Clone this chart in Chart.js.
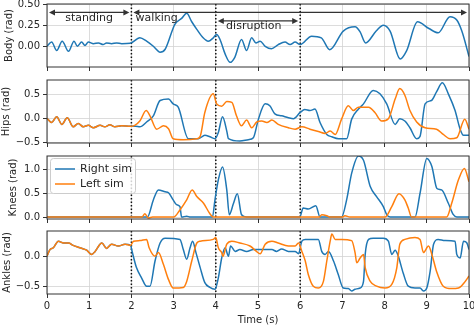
<!DOCTYPE html>
<html>
<head>
<meta charset="utf-8">
<script src="https://cdn.jsdelivr.net/npm/chart.js@4.4.1/dist/chart.umd.min.js"></script>
<style>
  body { margin: 0; background: #fff; }
  #wrap { position: relative; width: 474px; height: 326px; }
  canvas { position: absolute; left: 0; }
</style>
</head>
<body>
<div id="wrap">
  <canvas id="cBody" width="474" height="75" style="top:0px"></canvas>
  <canvas id="cHips" width="474" height="75" style="top:76px"></canvas>
  <canvas id="cKnees" width="474" height="75" style="top:152px"></canvas>
  <canvas id="cAnkles" width="474" height="99" style="top:227px"></canvas>
</div>
<script>
// time axis
const xTicks = [0, 1, 2, 3, 4, 5, 6, 7, 8, 9, 10];
const phaseTimes = [2, 4, 6];

// y ticks per panel
const bodyTicks = [0, 0.25, 0.5];
const hipsTicks = [-0.5, 0, 0.5];
const kneesTicks = [0, 0.5, 1];
const anklesTicks = [-0.5, 0];

// phase annotations (body panel)
const phaseLabels = ['standing', 'walking', 'disruption'];
const arrowSpans = [[0, 2], [2, 10], [4, 6]];
const arrowLevels = [0.40, 0.40, 0.30];
const labelT = [1.0, 2.1, 4.9];
const labelV = [0.335, 0.335, 0.235];
const labelAlign = ['center', 'left', 'center'];

// series: [time, value]
const body = [[0,0],[0.11,0.05],[0.23,-0.05],[0.36,0.06],[0.51,-0.06],[0.64,0.06],[0.72,0],[0.82,0.05],[0.9,0.01],[0.98,0.05],
  [1.1,0.03],[1.22,0.04],[1.33,0.02],[1.41,0.04],[1.53,0.03],[1.65,0.04],[1.77,0.03],[1.97,0.035],
  [2.2,0.1],[2.36,0.06],[2.52,0],[2.68,-0.07],[2.8,-0.035],[3.03,0.26],[3.19,0.33],[3.31,0.39],[3.43,0.29],[3.55,0.2],
  [3.7,0.1],[3.82,0.06],[3.94,0.1],[4.02,0.14],[4.1,0.08],[4.22,-0.09],[4.34,-0.19],[4.45,-0.13],[4.61,0.08],[4.73,-0.05],
  [4.85,0.1],[4.95,0.04],[5.05,0.06],[5.17,0],[5.32,-0.03],[5.48,0.02],[5.64,0.05],[5.76,0.02],[5.88,0.05],[6.0,0.02],
  [6.27,0.12],[6.5,0.1],[6.7,-0.04],[7.02,0.18],[7.3,0.23],[7.42,0.17],[7.55,0.04],[7.8,0.18],[7.97,0.25],[8.13,0.18],
  [8.37,-0.15],[8.52,-0.055],[8.78,0.29],[9.05,0.21],[9.27,0.16],[9.55,0.35],[9.71,0.31],[9.83,0.18],[10,-0.12]];

const hipsStand = [[0,0],[0.11,-0.09],[0.23,0.03],[0.35,-0.13],[0.48,0.01],[0.62,-0.18],[0.74,-0.11],[0.86,-0.18],[0.98,-0.15],
  [1.1,-0.2],[1.26,-0.15],[1.37,-0.18],[1.49,-0.14],[1.61,-0.18],[1.77,-0.16],[1.98,-0.17]];
const hipsRight = [[2.1,-0.17],[2.2,-0.18],[2.36,-0.08],[2.52,0.05],[2.68,0.37],[2.88,0.4],[2.99,0.3],[3.11,0.23],[3.35,-0.43],[3.59,-0.43],
  [3.74,-0.36],[3.86,-0.39],[3.98,-0.43],[4.06,-0.3],[4.16,0.03],[4.26,-0.27],[4.3,-0.43],[4.57,-0.48],[4.77,-0.45],[4.89,-0.41],
  [5.01,-0.02],[5.17,0.3],[5.28,0.26],[5.4,0.09],[5.56,0.05],[5.72,0.01],[5.84,-0.01],[6.0,0.12],[6.11,0.18],[6.23,0.16],
  [6.35,0.19],[6.47,-0.09],[6.63,-0.34],[6.75,-0.39],[6.91,-0.43],[7.1,-0.43],[7.22,-0.02],[7.38,0.19],[7.5,0.3],[7.73,0.58],
  [7.89,0.51],[8.05,0.3],[8.25,-0.13],[8.36,-0.01],[8.48,-0.06],[8.6,-0.2],[8.76,-0.43],[8.84,-0.38],[8.96,0.3],[9.11,0.37],
  [9.23,0.55],[9.37,0.74],[9.51,0.51],[9.67,0.16],[9.79,-0.23],[9.87,-0.36],[10,-0.36]];
const hipsLeft = [[2.08,-0.15],[2.2,-0.06],[2.35,0.16],[2.44,0.05],[2.6,-0.23],[2.76,-0.16],[2.88,-0.22],[2.99,-0.43],[3.23,-0.45],
  [3.55,-0.43],[3.63,-0.38],[3.74,0.12],[3.94,0.51],[4.02,0.3],[4.14,0.25],[4.26,0.35],[4.38,0.33],[4.49,0.05],[4.61,-0.16],
  [4.73,-0.04],[4.85,-0.2],[4.97,-0.08],[5.09,-0.06],[5.21,-0.09],[5.33,-0.04],[5.48,-0.13],[5.72,-0.2],[5.88,-0.23],[6.04,-0.18],
  [6.23,-0.23],[6.43,-0.28],[6.59,-0.32],[6.71,-0.27],[6.83,-0.34],[6.98,-0.02],[7.14,0.26],[7.26,0.16],[7.38,0.23],[7.62,0.23],
  [7.77,0.12],[7.93,-0.06],[8.09,-0.01],[8.25,0.4],[8.36,0.62],[8.48,0.48],[8.6,0.16],[8.76,-0.08],[8.96,-0.2],[9.23,-0.23],
  [9.39,-0.34],[9.55,-0.43],[9.71,-0.41],[9.9,-0.02],[10,-0.23]];

const kneesRight = [[0,0],[2.38,0],[2.52,0.36],[2.64,0.57],[2.8,0.53],[2.88,0.51],[2.99,0.36],[3.07,0.26],[3.15,0.22],[3.19,0],
  [3.31,0.02],[3.4,0],[3.92,0],[3.98,0.36],[4.06,0.78],[4.16,1.05],[4.26,0.57],[4.32,0.05],[4.42,0.29],[4.51,0.49],[4.61,0.05],
  [4.73,0],[5.99,0],[6.07,0.19],[6.19,0.17],[6.37,0.24],[6.47,0],[6.98,0],[7.1,0.36],[7.22,0.92],[7.38,1.28],[7.5,1.19],
  [7.66,0.64],[7.81,0.43],[7.97,0.22],[8.05,0.05],[8.13,0],[8.72,0],[8.84,0.5],[9.0,1.23],[9.12,1.06],[9.24,0.6],[9.35,0.57],
  [9.51,0.29],[9.63,0.05],[9.71,0],[10,0]];
const kneesLeft = [[0,0],[2.25,0],[2.32,0.07],[2.4,-0.02],[2.5,0],[3.0,0],[3.15,0.15],[3.31,0.36],[3.44,0.57],[3.55,0.43],
  [3.71,0.29],[3.86,0.07],[3.94,0],[6.45,0],[6.51,0.05],[6.63,0.03],[6.71,0],[7.0,0],[7.06,0.03],[7.18,0],[8.01,0],[8.17,0.22],
  [8.34,0.49],[8.48,0.36],[8.56,0.19],[8.64,0],[9.47,0],[9.59,0.29],[9.75,0.78],[9.89,1.02],[10,0.74]];

const anklesStand = [[0,0.01],[0.07,0.12],[0.15,0.15],[0.27,0.26],[0.39,0.23],[0.51,0.23],[0.62,0.19],[0.78,0.15],[0.94,0.11],
  [1.06,0.04],[1.14,0.09],[1.3,0.23],[1.41,0.14],[1.53,0.21],[1.69,0.18],[1.85,0.21],[1.98,0.19]];
const anklesRight = [[2.02,0.08],[2.12,-0.18],[2.24,-0.35],[2.36,-0.49],[2.44,-0.49],[2.56,-0.07],[2.68,0.23],[2.8,0.31],[3.15,0.29],
  [3.23,0.12],[3.31,-0.04],[3.39,0.15],[3.45,0.26],[3.53,0.07],[3.63,-0.18],[3.74,-0.43],[3.86,-0.51],[3.98,-0.54],[4.06,-0.35],
  [4.14,-0.02],[4.22,0.15],[4.3,0.01],[4.35,0.18],[4.46,0.09],[4.57,0.12],[4.73,0.09],[4.89,0.12],[5.09,0.12],[5.33,0.12],
  [5.44,0.09],[5.56,0.13],[5.72,0.09],[5.88,0.09],[5.96,0.05],[6.04,0.26],[6.12,0.29],[6.43,0.29],[6.51,0.09],[6.59,0.04],
  [6.67,0.09],[6.79,-0.07],[6.9,-0.29],[7.02,-0.52],[7.14,-0.53],[7.22,-0.57],[7.3,-0.54],[7.42,-0.52],[7.5,-0.41],[7.54,0.04],
  [7.62,0.29],[7.73,0.31],[7.97,0.31],[8.09,0.26],[8.17,0.04],[8.25,0.11],[8.31,0.04],[8.44,-0.27],[8.56,-0.49],[8.72,-0.52],
  [8.84,-0.52],[8.92,-0.57],[9.0,-0.52],[9.08,-0.24],[9.16,0.21],[9.27,0.29],[9.43,0.27],[9.67,0.26],[9.71,0.04],[9.79,-0.02],
  [9.87,0.26],[9.95,0.23],[10,0.12]];
const anklesLeft = [[2.05,0.26],[2.2,0.27],[2.36,0.29],[2.42,0.15],[2.56,0.01],[2.64,0.07],[2.76,-0.13],[2.88,-0.38],[2.99,-0.52],
  [3.23,-0.51],[3.31,-0.41],[3.43,-0.07],[3.55,0.23],[3.63,0.26],[3.94,0.29],[4.0,0.32],[4.06,0.15],[4.14,0.07],[4.17,0.01],
  [4.26,0.21],[4.38,0.26],[4.57,0.23],[4.81,0.18],[4.95,0.1],[5.05,0.05],[5.17,0.21],[5.33,0.26],[5.48,0.23],[5.72,0.18],
  [5.88,0.18],[5.96,0.23],[6.04,0.09],[6.12,-0.07],[6.19,-0.29],[6.31,-0.49],[6.43,-0.52],[6.55,-0.41],[6.63,-0.07],[6.71,0.26],
  [6.75,0.38],[6.83,0.29],[6.98,0.29],[7.22,0.27],[7.3,0.07],[7.34,-0.1],[7.42,-0.02],[7.5,0.04],[7.54,-0.18],[7.66,-0.41],
  [7.81,-0.49],[8.01,-0.52],[8.17,-0.46],[8.29,-0.18],[8.36,0.21],[8.48,0.29],[8.72,0.32],[8.84,0.29],[8.92,0.07],[9.04,0.18],
  [9.12,0.04],[9.23,-0.24],[9.39,-0.49],[9.59,-0.53],[9.75,-0.52],[9.91,-0.41],[10,-0.32]];

const BLUE = '#1f77b4';
const ORANGE = '#ff7f0e';
const TEXT = '#262626';
const FONT = 'DejaVu Sans';

Chart.defaults.font.family = FONT;
Chart.defaults.font.size = 10;
Chart.defaults.color = TEXT;

function pts(arr) {
  return arr.map(p => ({ x: p[0], y: p[1] }));
}

function line(label, arr, color, order) {
  return {
    label: label,
    data: pts(arr),
    borderColor: color,
    borderWidth: 1.5,
    pointRadius: 0,
    cubicInterpolationMode: 'monotone',
    fill: false,
    order: order
  };
}

function fmt(v, dec) {
  return v.toFixed(dec).replace('-', '\u2212');
}

// dotted phase boundaries
const phaseLines = {
  id: 'phaseLines',
  beforeDatasetsDraw(chart) {
    const { ctx, chartArea: a, scales: { x } } = chart;
    ctx.save();
    ctx.strokeStyle = '#111';
    ctx.lineWidth = 1.5;
    ctx.setLineDash([1.5, 2]);
    phaseTimes.forEach(t => {
      const px = x.getPixelForValue(t);
      ctx.beginPath();
      ctx.moveTo(px, a.top);
      ctx.lineTo(px, a.bottom);
      ctx.stroke();
    });
    ctx.restore();
  }
};

// axes box
const frame = {
  id: 'frame',
  afterDraw(chart) {
    const { ctx, chartArea: a } = chart;
    ctx.save();
    ctx.strokeStyle = '#333';
    ctx.lineWidth = 1;
    ctx.strokeRect(a.left, a.top, a.right - a.left, a.bottom - a.top);
    ctx.restore();
  }
};

function arrowHead(ctx, x, y, dir) {
  ctx.beginPath();
  ctx.moveTo(x, y);
  ctx.lineTo(x - dir * 6, y - 3);
  ctx.lineTo(x - dir * 6, y + 3);
  ctx.closePath();
  ctx.fill();
}

const phaseArrows = {
  id: 'phaseArrows',
  afterDatasetsDraw(chart) {
    const { ctx, scales: { x, y } } = chart;
    ctx.save();
    ctx.strokeStyle = '#333';
    ctx.fillStyle = '#333';
    ctx.lineWidth = 1.2;
    arrowSpans.forEach((s, i) => {
      const x0 = x.getPixelForValue(s[0]) + 2;
      const x1 = x.getPixelForValue(s[1]) - 2;
      const py = y.getPixelForValue(arrowLevels[i]);
      ctx.beginPath();
      ctx.moveTo(x0 + 4, py);
      ctx.lineTo(x1 - 4, py);
      ctx.stroke();
      arrowHead(ctx, x0, py, -1);
      arrowHead(ctx, x1, py, 1);
    });
    ctx.fillStyle = TEXT;
    ctx.font = '11px ' + FONT;
    ctx.textBaseline = 'middle';
    phaseLabels.forEach((txt, i) => {
      ctx.textAlign = labelAlign[i];
      ctx.fillText(txt, x.getPixelForValue(labelT[i]), y.getPixelForValue(labelV[i]));
    });
    ctx.restore();
  }
};

const kneeLegend = {
  id: 'kneeLegend',
  afterDraw(chart) {
    const { ctx, chartArea: a } = chart;
    const bx = a.left + 3, by = a.top + 2, bw = 85, bh = 35;
    ctx.save();
    ctx.fillStyle = 'rgba(255,255,255,0.8)';
    ctx.strokeStyle = '#cccccc';
    ctx.lineWidth = 1;
    ctx.beginPath();
    ctx.roundRect(bx + 0.5, by + 0.5, bw, bh, 3);
    ctx.fill();
    ctx.stroke();
    const items = chart.data.datasets;
    ctx.font = '11px ' + FONT;
    ctx.textBaseline = 'middle';
    ctx.textAlign = 'left';
    items.forEach((d, i) => {
      const ly = by + 11 + i * 15;
      ctx.strokeStyle = d.borderColor;
      ctx.lineWidth = 1.5;
      ctx.beginPath();
      ctx.moveTo(bx + 5, ly);
      ctx.lineTo(bx + 25, ly);
      ctx.stroke();
      ctx.fillStyle = TEXT;
      ctx.fillText(d.label, bx + 30, ly);
    });
    ctx.restore();
  }
};

function xScale(showLabels) {
  return {
    type: 'linear',
    min: 0,
    max: 10,
    afterBuildTicks: s => { s.ticks = xTicks.map(v => ({ value: v })); },
    afterFit: s => { s.height = showLabels ? 32 : 8; s.paddingLeft = 0; s.paddingRight = 0; },
    grid: { color: '#d3d3d3', lineWidth: 0.8, tickLength: 4, tickColor: '#333', tickWidth: 1 },
    border: { display: false },
    ticks: { display: showLabels, color: TEXT, padding: 2, maxRotation: 0, font: { size: 10 } },
    title: { display: showLabels, text: 'Time (s)', color: TEXT, padding: 0, font: { size: 10 } }
  };
}

function yScale(min, max, ticks, dec, title, pad) {
  return {
    type: 'linear',
    min: min,
    max: max,
    afterBuildTicks: s => { s.ticks = ticks.map(v => ({ value: v })); },
    afterFit: s => { s.width = 47; s.paddingTop = 0; s.paddingBottom = 0; },
    grid: { color: '#d3d3d3', lineWidth: 0.8, tickLength: 4, tickColor: '#333', tickWidth: 1 },
    border: { display: false },
    ticks: { color: TEXT, padding: 3, font: { size: 10 }, callback: v => fmt(v, dec) },
    title: { display: true, text: title, color: TEXT, padding: { top: pad, bottom: 0 }, font: { size: 10 } }
  };
}

function makeChart(id, datasets, yOpts, showX, extra) {
  return new Chart(document.getElementById(id), {
    type: 'line',
    data: { datasets: datasets },
    options: {
      responsive: false,
      animation: false,
      events: [],
      layout: { padding: { top: 4, right: 5, left: 0, bottom: 0 } },
      plugins: { legend: { display: false }, tooltip: { enabled: false } },
      scales: { x: xScale(showX), y: yOpts }
    },
    plugins: [phaseLines, frame].concat(extra)
  });
}

makeChart('cBody', [line('Body', body, BLUE, 0)],
  yScale(-0.245, 0.5, bodyTicks, 2, 'Body (rad)', 3), false, [phaseArrows]);

makeChart('cHips', [line('Right sim', hipsStand.concat(hipsRight), BLUE, 1), line('Left sim', hipsStand.concat(hipsLeft), ORANGE, 0)],
  yScale(-0.52, 0.8, hipsTicks, 1, 'Hips (rad)', 0), false, []);

makeChart('cKnees', [line('Right sim', kneesRight, BLUE, 1), line('Left sim', kneesLeft, ORANGE, 0)],
  yScale(-0.04, 1.28, kneesTicks, 1, 'Knees (rad)', 7), false, [kneeLegend]);

makeChart('cAnkles', [line('Right sim', anklesStand.concat(anklesRight), BLUE, 1), line('Left sim', anklesStand.concat(anklesLeft), ORANGE, 0)],
  yScale(-0.62, 0.43, anklesTicks, 1, 'Ankles (rad)', 1), true, []);
</script>
</body>
</html>
